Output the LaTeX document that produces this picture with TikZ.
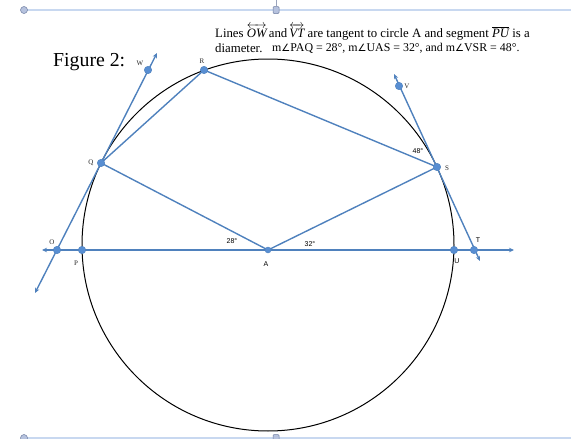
\documentclass[tikz,border=0pt]{standalone}
\usepackage{amsmath}
\usepackage{fontspec}
\setmainfont{Liberation Serif}
\newfontfamily\symfont{DejaVu Sans}
\newfontfamily\lblsans{Liberation Sans}
\usetikzlibrary{arrows.meta}
\definecolor{lineblue}{RGB}{79,129,189}
\definecolor{dotblue}{RGB}{88,142,210}
\definecolor{rulerblue}{RGB}{200,216,240}
\definecolor{handlefill}{RGB}{182,194,222}
\definecolor{handledraw}{RGB}{110,125,160}
\begin{document}
\begin{tikzpicture}[x=1pt,y=-1pt,
  seg/.style={lineblue, line width=1.4pt},
  twoarr/.style={seg, {Stealth[length=5pt,width=4.5pt]}-{Stealth[length=5pt,width=4.5pt]}},
  ptdot/.style={circle, fill=dotblue, draw=lineblue, line width=0.4pt, inner sep=0pt, minimum size=7.5pt},
  smalldot/.style={ptdot, minimum size=6pt},
  lbl/.style={font=\fontsize{7}{8}\selectfont, inner sep=0pt, text=black!85},
  deg/.style={font=\lblsans\fontsize{7}{8}\selectfont, inner sep=0pt},
  txt/.style={font=\fontsize{12.8}{14}\selectfont, inner sep=0pt, anchor=west},
  txtb/.style={font=\fontsize{11.9}{13}\selectfont, inner sep=0pt, anchor=west},
  ruler/.style={rulerblue, line width=2pt},
  hcirc/.style={circle, fill=handlefill, draw=handledraw, line width=0.5pt, inner sep=0pt, minimum size=7pt},
  hsq/.style={rectangle, rounded corners=1pt, fill=handlefill, draw=handledraw, line width=0.5pt, inner sep=0pt, minimum width=6pt, minimum height=7pt}
]
\useasboundingbox (0,0) rectangle (571,439);

% rulers
\coordinate (rtl) at (24,10);
\coordinate (rtr) at (571,10);
\coordinate (rbl) at (24,437.5);
\coordinate (rbr) at (571,437.5);
\coordinate (vtop) at (276,0);
\draw[ruler] (rtl) -- (rtr);
\draw[ruler] (rbl) -- (rbr);
\node[hsq] (hs1) at (276,10) {};
\draw[handledraw!70, line width=0.5pt] (hs1.north) -- (vtop);
\node[hcirc] (hc1) at (24,10) {};
\node[hcirc] (hc2) at (24,438) {};
\node[hsq] (hs2) at (276,438) {};

% circle
\coordinate (ctr) at (268,245);
\draw[black, line width=1pt] (ctr) circle [radius=186pt];

% end points of lines
\coordinate (owlo) at (35,293);
\coordinate (owhi) at (157,53);
\coordinate (dl) at (42,250);
\coordinate (dr) at (514,250);
\coordinate (vtlo) at (480,261);
\coordinate (vthi) at (394,74);

% points
\coordinate (A) at (268,250);
\coordinate (P) at (82,250);
\coordinate (U) at (454,250);
\coordinate (O) at (57,250);
\coordinate (T) at (474,250);
\coordinate (Q) at (101,163);
\coordinate (R) at (204,70);
\coordinate (S) at (437,167);
\coordinate (W) at (148,70);
\coordinate (V) at (399,86);

% lines
\draw[twoarr] (owlo) -- (owhi);
\draw[twoarr] (dl) -- (dr);
\draw[twoarr] (vthi) -- (vtlo);
\draw[seg] (Q) -- (R) -- (S);
\draw[seg] (Q) -- (A) -- (S);

% dots
\node[ptdot] (nO) at (O) {};
\node[ptdot] (nP) at (P) {};
\node[smalldot] (nA) at (A) {};
\node[ptdot] (nU) at (U) {};
\node[ptdot] (nT) at (T) {};
\node[ptdot] (nQ) at (Q) {};
\node[ptdot] (nR) at (R) {};
\node[ptdot] (nS) at (S) {};
\node[ptdot] (nW) at (W) {};
\node[ptdot] (nV) at (V) {};

% labels
\node[lbl] (lW) at (140,63) {W};
\node[lbl] (lR) at (202,61) {R};
\node[lbl] (lQ) at (91,163) {Q};
\node[lbl] (lS) at (447,168) {S};
\node[lbl] (lV) at (407,86) {V};
\node[lbl] (lO) at (52,242) {O};
\node[lbl] (lP) at (76,263) {P};
\node[deg] (lA) at (266,264) {A};
\node[deg] (lU) at (457,261) {U};
\node[deg] (lT) at (478,240) {T};
\node[deg] (d48) at (418,151) {48°};
\node[deg] (d28) at (232,241) {28°};
\node[deg] (d32) at (310,244) {32°};

% texts
\node[font=\fontsize{19.8}{21}\selectfont, inner sep=0pt, anchor=west] (fig) at (53,62) {Figure 2:};
\node[txt] (line1) at (215,32) {Lines $\overleftrightarrow{\textit{OW}}$\,and\,$\overleftrightarrow{\textit{VT}}$ are tangent to circle A and segment $\overline{\textit{PU}}$ is a};
\node[txt] (line2a) at (215,48.5) {diameter.};
\node[txtb] (line2b) at (272,48.5) {m{\symfont\fontsize{10}{12}\selectfont ∠}PAQ = 28°, m{\symfont\fontsize{10}{12}\selectfont ∠}UAS = 32°, and m{\symfont\fontsize{10}{12}\selectfont ∠}VSR = 48°.};
\end{tikzpicture}
\end{document}
